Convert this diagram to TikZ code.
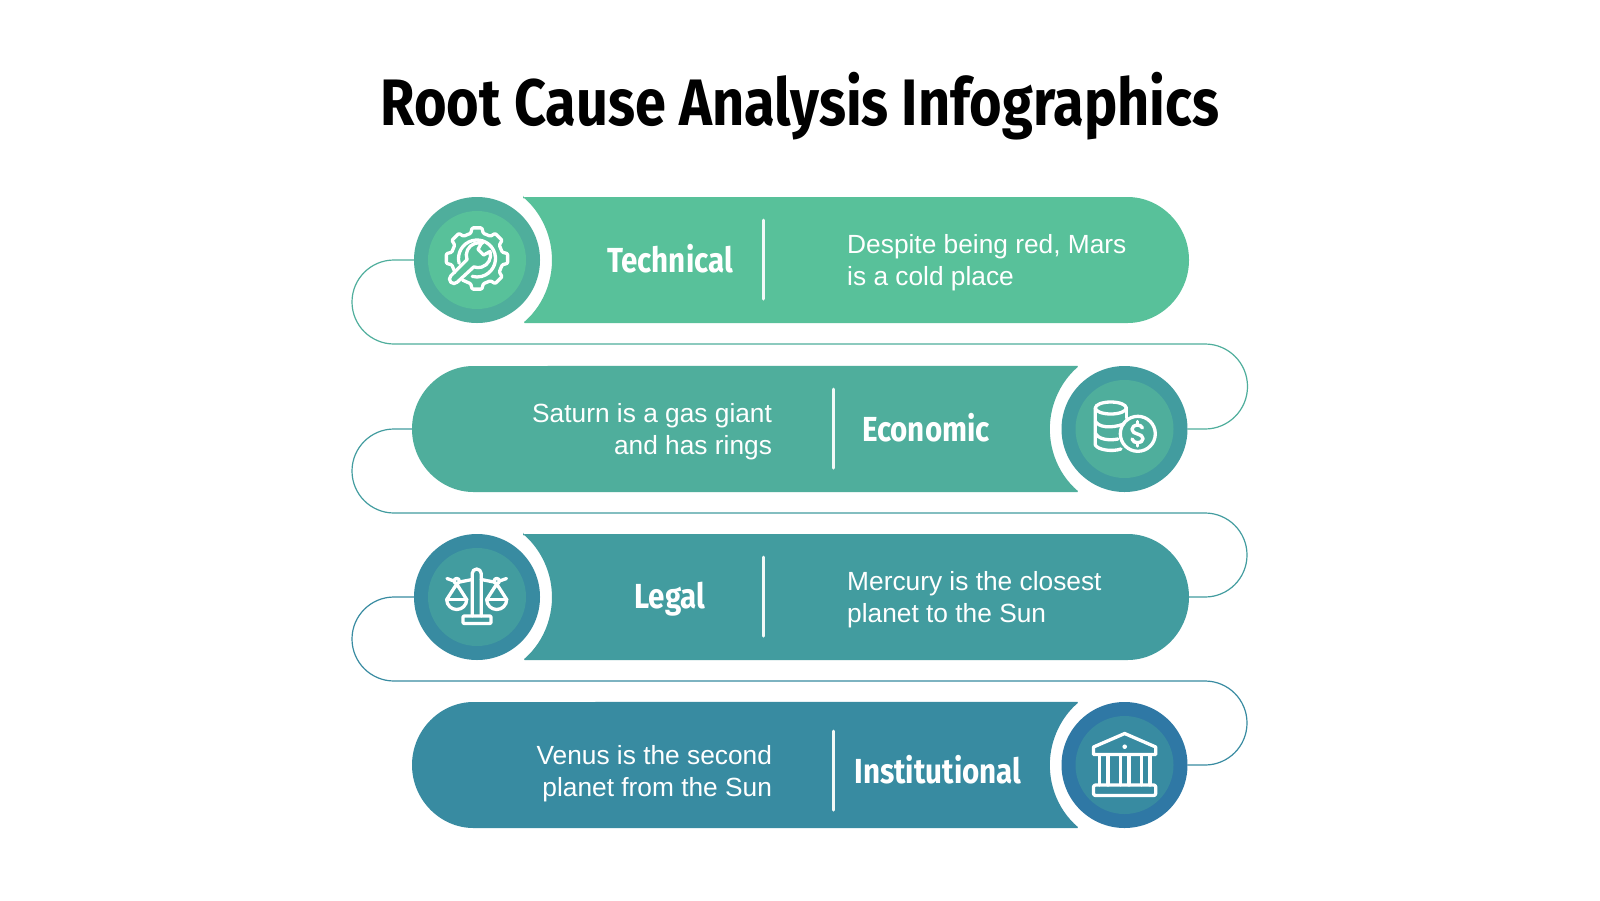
\documentclass[tikz,border=0pt]{standalone}
\usepackage{fontspec}
\setmainfont{Liberation Sans}
\newfontfamily\headfont[FakeStretch=0.85]{Fira Sans}
\definecolor{ca}{HTML}{58C19A}
\definecolor{cb}{HTML}{4FAE9C}
\definecolor{cc}{HTML}{429C9F}
\definecolor{cd}{HTML}{388BA1}
\definecolor{ce}{HTML}{2F78A5}
\tikzset{
 x=1pt,y=-1pt,
 conn/.style={line width=1.2pt},
 body/.style={text=white,font=\fontsize{26.3}{32}\selectfont,align=left,anchor=west},
 bodyr/.style={text=white,font=\fontsize{26.3}{32}\selectfont,align=right,anchor=east},
 head/.style={text=white,font=\headfont\bfseries\fontsize{34.8}{36}\selectfont,anchor=center},
 divline/.style={white!92!cb,line width=3pt,line cap=round},
 icon/.style={draw=white,line width=3.3pt,line join=round,line cap=round},
 ring/.style={circle,minimum size=126pt,inner sep=0pt,outer sep=0pt},
 disc/.style={circle,minimum size=98pt,inner sep=0pt,outer sep=0pt},
 bandshape/.style={rounded corners=1.5pt},
}
\begin{document}
\begin{tikzpicture}
\useasboundingbox (0,0) rectangle (1600,900);
\fill[white] (0,0) rectangle (1600,900);
\node (title) at (800,106) {\headfont\bfseries\fontsize{65.7}{70}\selectfont Root Cause Analysis Infographics};
\coordinate (p1) at (477,260);
\coordinate (p2) at (1124.5,429);
\coordinate (p3) at (477,597);
\coordinate (p4) at (1124.5,765);
\node[ring] (c1) at (p1) {};
\node[ring] (c2) at (p2) {};
\node[ring] (c3) at (p3) {};
\node[ring] (c4) at (p4) {};
\coordinate (b2) at (450,429);
\coordinate (b3) at (1150,597);
% connectors
\draw[conn,cb] (c1.west) -- (394,260) arc[start angle=270,end angle=90,radius=42] -- (1205,344) arc[start angle=-90,end angle=90,radius=42.5] -- (c2.east);
\draw[conn,cc] (b2) -- (394,429) arc[start angle=270,end angle=90,radius=42] -- (1205,513) arc[start angle=-90,end angle=90,radius=42] -- (b3);
\draw[conn,cd] (c3.west) -- (394,597) arc[start angle=270,end angle=90,radius=42] -- (1205,681) arc[start angle=-90,end angle=90,radius=42] -- (c4.east);
% bands
\fill[ca,bandshape] (523,197) -- (1126,197) arc[start angle=-90,end angle=90,radius=63] -- (523,323) arc[start angle=49.4,end angle=-49.4,radius=82.97] -- cycle;
\fill[cb,bandshape] (475,366) arc[start angle=270,end angle=90,radius=63] -- (1079,492) arc[start angle=130.3,end angle=229.7,radius=82.65] -- cycle;
\fill[cc,bandshape] (523,534) -- (1126,534) arc[start angle=-90,end angle=90,radius=63] -- (523,660) arc[start angle=49.4,end angle=-49.4,radius=82.97] -- cycle;
\fill[cd,bandshape] (475,702) arc[start angle=270,end angle=90,radius=63] -- (1079,828) arc[start angle=130.3,end angle=229.7,radius=82.65] -- cycle;
% circles
\node[ring,fill=cb] at (p1) {}; \node[disc,fill=ca] (d1) at (p1) {};
\node[ring,fill=cc] at (p2) {}; \node[disc,fill=cb] (d2) at (p2) {};
\node[ring,fill=cd] at (p3) {}; \node[disc,fill=cc] (d3) at (p3) {};
\node[ring,fill=ce] at (p4) {}; \node[disc,fill=cd] (d4) at (p4) {};
% texts
\node[head] (h1) at (670,259) {Technical};
\node[head] (h2) at (926,428) {Economic};
\node[head] (h3) at (670,599) {Legal};
\node[head] (h4) at (938,769.5) {Institutional};
\node[body] (t1) at (843.7,263) {Despite being red, Mars\\is a cold place};
\node[body] (t3) at (843.7,600) {Mercury is the closest\\planet to the Sun};
\node[bodyr] (t2) at (775.5,432) {Saturn is a gas giant\\and has rings};
\node[bodyr] (t4) at (775.5,774) {Venus is the second\\planet from the Sun};
\draw[divline] (763,220) -- (763,299);
\draw[divline] (763,557) -- (763,636);
\draw[divline] (833,389) -- (833,468);
\draw[divline] (833,731) -- (833,810);
% gear + wrench icon
\begin{scope}[shift={(477,258.5)}]
 \draw[icon,rounded corners=1pt] (148:26)
  \foreach \a in {180,225,270,315,360,405,450}{ -- (\a-14:26) -- (\a-9:31) -- (\a+9:31) -- (\a+14:26) } -- (124+360:26);
 \draw[icon] (165:18.5) arc[start angle=165,end angle=360+105,radius=18.5];
\end{scope}
\begin{scope}[shift={(478,255)},x={(0.7071pt,0.7071pt)},y={(0.7071pt,-0.7071pt)}]
 \draw[icon] (11,-6) -- (4,-4) -- (4,4) -- (11,6) arc[start angle=28,end angle=155,radius=12.5] -- (-34,4.5) arc[start angle=90,end angle=270,radius=4.5] -- (-11,-4.5) arc[start angle=205,end angle=332,radius=12.5];
\end{scope}
% coins icon
\begin{scope}
 \draw[icon] (1110.8,408) ellipse[x radius=15.5,y radius=6];
 \draw[icon] (1095.3,408) -- (1095.3,445) .. controls (1098,450) and (1112,452) .. (1121,449);
 \draw[icon] (1126.3,408) -- (1126.3,418);
 \draw[icon] (1095.3,421) .. controls (1098,427) and (1110,429) .. (1124,424);
 \draw[icon] (1095.3,433) .. controls (1098,439) and (1108,441) .. (1118,439);
 \draw[icon] (1137.8,433.8) circle[radius=17.5];
 \draw[icon,line width=3.4pt] (1142.5,428) .. controls (1141,423.5) and (1132,424) .. (1132,429.5) .. controls (1132,435) and (1143,433) .. (1143,438.5) .. controls (1143,444) and (1133,444) .. (1132,439);
 \draw[icon,line width=3.4pt] (1137.5,421.5) -- (1137.5,424);
 \draw[icon,line width=3.4pt] (1137.5,443.5) -- (1137.5,446);
\end{scope}
% scales icon
\begin{scope}
 \draw[icon] (472.2,616) -- (472.2,573.5) arc[start angle=180,end angle=360,radius=4.5] -- (481.2,616);
 \draw[icon,rounded corners=1pt] (463,616) rectangle (491,623.5);
 \draw[icon] (472.2,579.5) -- (459.5,582);
 \draw[icon] (454,581) -- (447,578.5);
 \draw[icon] (481.2,579.5) -- (494,582);
 \draw[icon] (499.5,581) -- (506.5,578.5);
 \draw[icon] (456.7,581) circle[radius=2.6];
 \draw[icon] (496.7,581) circle[radius=2.6];
 \draw[icon] (456.7,584) -- (446.7,599.5) arc[start angle=180,end angle=0,radius=10] -- cycle;
 \draw[icon] (496.7,584) -- (486.7,599.5) arc[start angle=180,end angle=0,radius=10] -- cycle;
 \draw[icon] (446.7,599.5) -- (466.7,599.5);
 \draw[icon] (486.7,599.5) -- (506.7,599.5);
\end{scope}
% building icon
\begin{scope}
 \draw[icon] (1124.7,733.5) -- (1155.7,747) -- (1155.7,754.5) -- (1093.5,754.5) -- (1093.5,747) -- cycle;
 \fill[white] (1124.7,746.7) circle[radius=2.3];
 \foreach \cx in {1099.5,1108,1120.5,1129,1141.5,1150}{\draw[icon] (\cx,755) -- (\cx,785);}
 \draw[icon,rounded corners=2pt] (1093.5,785) rectangle (1155.7,795.5);
\end{scope}
\end{tikzpicture}
\end{document}
